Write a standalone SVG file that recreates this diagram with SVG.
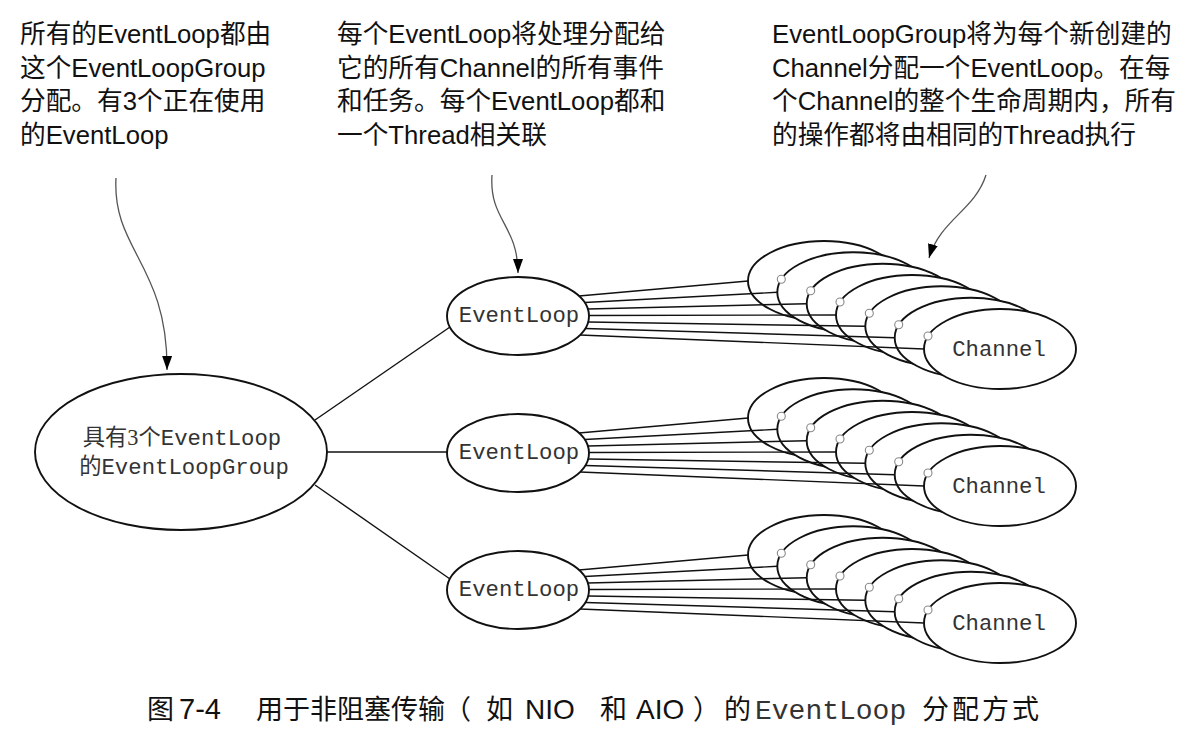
<svg xmlns="http://www.w3.org/2000/svg" xmlns:xlink="http://www.w3.org/1999/xlink" width="1200" height="735" viewBox="0 0 1200 735">
<style>
.node{fill:#fff;stroke:#111;stroke-width:1.9}
.dot{fill:#fff;stroke:#888;stroke-width:1.1}
.ln{stroke:#111;stroke-width:1.4;fill:none}
.arr{stroke:#555;stroke-width:1.3;fill:none}
.mono{font-family:"Liberation Mono","Noto Sans CJK SC",monospace;font-size:22.3px;fill:#333}
.note{font-family:"Liberation Sans","Noto Sans CJK SC",sans-serif;font-size:25.7px;fill:#111}
.cap{font-family:"Liberation Sans","Noto Sans CJK SC",sans-serif;font-size:27px;fill:#111}
</style>
<defs>
<marker id="ah" markerUnits="userSpaceOnUse" markerWidth="14" markerHeight="12" viewBox="0 0 14 10" refX="14" refY="5" orient="auto">
<path d="M0,0 L14,5 L0,10 z" fill="#000"/>
</marker>
<ellipse id="chE" cx="0" cy="0" rx="76" ry="40"/>
</defs>
<rect width="1200" height="735" fill="#fff"/>

<!-- annotations -->
<g id="note-1" class="note">
<text x="20" y="43">所有的EventLoop都由</text>
<text x="20" y="77">这个EventLoopGroup</text>
<text x="20" y="110">分配。有3个正在使用</text>
<text x="20" y="144">的EventLoop</text>
</g>
<g id="note-2" class="note">
<text x="337" y="43">每个EventLoop将处理分配给</text>
<text x="337" y="77">它的所有Channel的所有事件</text>
<text x="337" y="110">和任务。每个EventLoop都和</text>
<text x="337" y="144">一个Thread相关联</text>
</g>
<g id="note-3" class="note">
<text x="772" y="43">EventLoopGroup将为每个新创建的</text>
<text x="772" y="77">Channel分配一个EventLoop。在每</text>
<text x="772" y="110">个Channel的整个生命周期内，所有</text>
<text x="772" y="144">的操作都将由相同的Thread执行</text>
</g>

<!-- group node -->
<g id="group">
<ellipse class="node" cx="181" cy="452" rx="146" ry="78"/>
<text class="mono" x="182" y="445" text-anchor="middle">具有<tspan font-family="Liberation Serif,serif">3</tspan>个EventLoop</text>
<text class="mono" x="184" y="474" text-anchor="middle">的EventLoopGroup</text>
</g>

<!-- event loops -->
<g id="eventloop-1"><ellipse class="node" cx="518" cy="316" rx="71" ry="39"/><text class="mono" x="519" y="322" text-anchor="middle">EventLoop</text></g>
<g id="eventloop-2"><ellipse class="node" cx="518" cy="453" rx="71" ry="39"/><text class="mono" x="519" y="459" text-anchor="middle">EventLoop</text></g>
<g id="eventloop-3"><ellipse class="node" cx="518" cy="590" rx="71" ry="39"/><text class="mono" x="519" y="596" text-anchor="middle">EventLoop</text></g>

<!-- channel stacks -->
<g id="channels-1">
<g id="ch1-1" transform="translate(824,281)"><use xlink:href="#chE" href="#chE" class="node"/></g>
<g id="ch1-2" transform="translate(853.3,292.3)"><use xlink:href="#chE" href="#chE" class="node"/><circle class="dot" cx="-72" cy="-13" r="4"/></g>
<g id="ch1-3" transform="translate(882.7,303.7)"><use xlink:href="#chE" href="#chE" class="node"/><circle class="dot" cx="-72" cy="-13" r="4"/></g>
<g id="ch1-4" transform="translate(912,315)"><use xlink:href="#chE" href="#chE" class="node"/><circle class="dot" cx="-72" cy="-13" r="4"/></g>
<g id="ch1-5" transform="translate(941.3,326.3)"><use xlink:href="#chE" href="#chE" class="node"/><circle class="dot" cx="-72" cy="-13" r="4"/></g>
<g id="ch1-6" transform="translate(970.7,337.7)"><use xlink:href="#chE" href="#chE" class="node"/><circle class="dot" cx="-72" cy="-13" r="4"/></g>
<g id="ch1-7" transform="translate(1000,349)"><use xlink:href="#chE" href="#chE" class="node"/><circle class="dot" cx="-72" cy="-13" r="4"/><text class="mono" x="-1" y="7" text-anchor="middle">Channel</text></g>
</g>
<g id="channels-2">
<g id="ch2-1" transform="translate(824,418)"><use xlink:href="#chE" href="#chE" class="node"/></g>
<g id="ch2-2" transform="translate(853.3,429.3)"><use xlink:href="#chE" href="#chE" class="node"/><circle class="dot" cx="-72" cy="-13" r="4"/></g>
<g id="ch2-3" transform="translate(882.7,440.7)"><use xlink:href="#chE" href="#chE" class="node"/><circle class="dot" cx="-72" cy="-13" r="4"/></g>
<g id="ch2-4" transform="translate(912,452)"><use xlink:href="#chE" href="#chE" class="node"/><circle class="dot" cx="-72" cy="-13" r="4"/></g>
<g id="ch2-5" transform="translate(941.3,463.3)"><use xlink:href="#chE" href="#chE" class="node"/><circle class="dot" cx="-72" cy="-13" r="4"/></g>
<g id="ch2-6" transform="translate(970.7,474.7)"><use xlink:href="#chE" href="#chE" class="node"/><circle class="dot" cx="-72" cy="-13" r="4"/></g>
<g id="ch2-7" transform="translate(1000,486)"><use xlink:href="#chE" href="#chE" class="node"/><circle class="dot" cx="-72" cy="-13" r="4"/><text class="mono" x="-1" y="7" text-anchor="middle">Channel</text></g>
</g>
<g id="channels-3">
<g id="ch3-1" transform="translate(824,555)"><use xlink:href="#chE" href="#chE" class="node"/></g>
<g id="ch3-2" transform="translate(853.3,566.3)"><use xlink:href="#chE" href="#chE" class="node"/><circle class="dot" cx="-72" cy="-13" r="4"/></g>
<g id="ch3-3" transform="translate(882.7,577.7)"><use xlink:href="#chE" href="#chE" class="node"/><circle class="dot" cx="-72" cy="-13" r="4"/></g>
<g id="ch3-4" transform="translate(912,589)"><use xlink:href="#chE" href="#chE" class="node"/><circle class="dot" cx="-72" cy="-13" r="4"/></g>
<g id="ch3-5" transform="translate(941.3,600.3)"><use xlink:href="#chE" href="#chE" class="node"/><circle class="dot" cx="-72" cy="-13" r="4"/></g>
<g id="ch3-6" transform="translate(970.7,611.7)"><use xlink:href="#chE" href="#chE" class="node"/><circle class="dot" cx="-72" cy="-13" r="4"/></g>
<g id="ch3-7" transform="translate(1000,623)"><use xlink:href="#chE" href="#chE" class="node"/><circle class="dot" cx="-72" cy="-13" r="4"/><text class="mono" x="-1" y="7" text-anchor="middle">Channel</text></g>
</g>

<!-- connectors -->
<g id="connectors">
<line class="ln" x1="315" y1="420" x2="450" y2="327"/>
<line class="ln" x1="327" y1="452" x2="447" y2="452"/>
<line class="ln" x1="315" y1="485" x2="450" y2="579"/>
<g id="fan-1">
<line class="ln" x1="579" y1="296" x2="748" y2="281"/>
<line class="ln" x1="584.6" y1="302.5" x2="777.3" y2="292.3"/>
<line class="ln" x1="587.8" y1="309" x2="806.7" y2="303.7"/>
<line class="ln" x1="589" y1="315.5" x2="836" y2="315"/>
<line class="ln" x1="588.2" y1="322" x2="865.3" y2="326.3"/>
<line class="ln" x1="585.3" y1="328.5" x2="894.7" y2="337.7"/>
<line class="ln" x1="580" y1="335" x2="924" y2="349"/>
</g>
<g id="fan-2" transform="translate(0,137)">
<line class="ln" x1="579" y1="296" x2="748" y2="281"/>
<line class="ln" x1="584.6" y1="302.5" x2="777.3" y2="292.3"/>
<line class="ln" x1="587.8" y1="309" x2="806.7" y2="303.7"/>
<line class="ln" x1="589" y1="315.5" x2="836" y2="315"/>
<line class="ln" x1="588.2" y1="322" x2="865.3" y2="326.3"/>
<line class="ln" x1="585.3" y1="328.5" x2="894.7" y2="337.7"/>
<line class="ln" x1="580" y1="335" x2="924" y2="349"/>
</g>
<g id="fan-3" transform="translate(0,274)">
<line class="ln" x1="579" y1="296" x2="748" y2="281"/>
<line class="ln" x1="584.6" y1="302.5" x2="777.3" y2="292.3"/>
<line class="ln" x1="587.8" y1="309" x2="806.7" y2="303.7"/>
<line class="ln" x1="589" y1="315.5" x2="836" y2="315"/>
<line class="ln" x1="588.2" y1="322" x2="865.3" y2="326.3"/>
<line class="ln" x1="585.3" y1="328.5" x2="894.7" y2="337.7"/>
<line class="ln" x1="580" y1="335" x2="924" y2="349"/>
</g>
<path class="arr" d="M116,178 C112,250 168,265 167,370" marker-end="url(#ah)"/>
<path class="arr" d="M492,175 C489,220 518,225 518,273" marker-end="url(#ah)"/>
<path class="arr" d="M986,175 C975,210 940,220 929,258" marker-end="url(#ah)"/>
</g>

<!-- caption -->
<text class="cap" y="719"><tspan x="147">图</tspan><tspan x="179" font-size="29">7-4</tspan><tspan x="256">用于非阻塞传输</tspan><tspan x="444">（</tspan><tspan x="486">如</tspan><tspan x="525" font-size="28">NIO</tspan><tspan x="600">和</tspan><tspan x="636" font-size="28">AIO</tspan><tspan x="693">）</tspan><tspan x="724">的</tspan><tspan x="755" font-family="Liberation Mono,monospace" font-size="28" fill="#333">EventLoop</tspan><tspan x="922" letter-spacing="3">分配方式</tspan></text>
</svg>
